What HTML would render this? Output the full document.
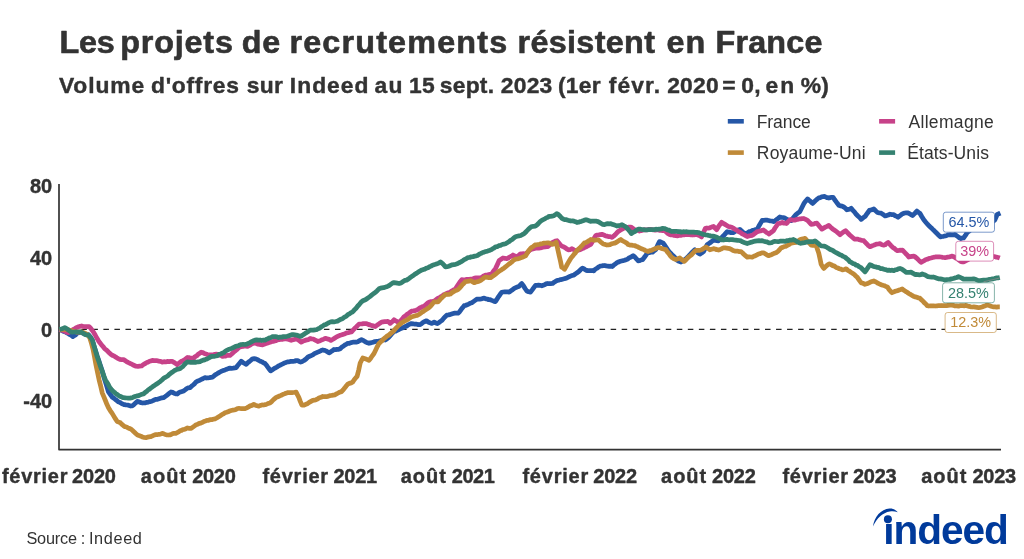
<!DOCTYPE html>
<html lang="fr"><head><meta charset="utf-8"><title>Les projets de recrutements résistent en France</title>
<style>html,body{margin:0;padding:0;background:#fff}svg{display:block;will-change:transform}text{font-family:'Liberation Sans', Arial, sans-serif;white-space:pre}</style></head><body>
<svg width="1024" height="559" viewBox="0 0 1024 559">
<text id="title" transform="translate(59.46,53.4) scale(1.03,1)" font-size="31.4" font-weight="bold" fill="#333333" letter-spacing="0.939" word-spacing="-3.072" stroke="#333333" stroke-width="0.6" stroke-linejoin="round"><tspan letter-spacing="-0.160">Les</tspan> <tspan dx="-1.25" letter-spacing="0.808">projets</tspan> <tspan dx="1.04" letter-spacing="0.875">de</tspan> <tspan dx="1.38" letter-spacing="1.148">recrutements</tspan> <tspan dx="2.29" letter-spacing="0.316">résistent</tspan> <tspan dx="4.26" letter-spacing="1.142">en</tspan> <tspan dx="2.11" letter-spacing="0.195">France</tspan></text>
<text id="sub" transform="translate(58.90,93.0) scale(1.03,1)" font-size="22.2" font-weight="bold" fill="#333333" letter-spacing="1.018" word-spacing="-3.278" stroke="#333333" stroke-width="0.4" stroke-linejoin="round"><tspan letter-spacing="0.889">Volume</tspan> <tspan dx="1.68" letter-spacing="0.704">d'offres</tspan> <tspan dx="2.99" letter-spacing="0.241">sur</tspan> <tspan dx="2.70" letter-spacing="0.960">Indeed</tspan> <tspan dx="0.91" letter-spacing="1.390">au</tspan> <tspan dx="0.98" letter-spacing="0.241">15</tspan> <tspan dx="0.77" letter-spacing="0.241">sept.</tspan> <tspan dx="2.36" letter-spacing="0.241">2023</tspan> <tspan dx="1.34" letter-spacing="0.241">(1er</tspan> <tspan dx="3.62" letter-spacing="1.090">févr.</tspan> <tspan dx="1.77" letter-spacing="0.241">2020</tspan> <tspan dx="-0.69">=</tspan> <tspan dx="0.67" letter-spacing="0.241">0,</tspan> <tspan dx="0.60" letter-spacing="1.795">en</tspan> <tspan dx="0.74" letter-spacing="0.241">%)</tspan></text>
<rect x="727.8" y="118.99999999999999" width="16" height="4.6" fill="#2557A7"/><text id="lg1" transform="translate(756.70,127.6)" font-size="17.5" font-weight="normal" fill="#333333" letter-spacing="-0.036" word-spacing="0.000"><tspan letter-spacing="-0.066">France</tspan></text>
<rect x="879.1" y="118.99999999999999" width="16" height="4.6" fill="#C74289"/><text id="lg2" transform="translate(908.40,127.6)" font-size="17.5" font-weight="normal" fill="#333333" letter-spacing="0.358" word-spacing="0.000"><tspan letter-spacing="0.338">Allemagne</tspan></text>
<rect x="727.8" y="150.3" width="16" height="4.6" fill="#C08A38"/><text id="lg3" transform="translate(756.82,158.9)" font-size="17.5" font-weight="normal" fill="#333333" letter-spacing="0.208" word-spacing="0.000"><tspan letter-spacing="0.180">Royaume-Uni</tspan></text>
<rect x="879.1" y="150.3" width="16" height="4.6" fill="#358271"/><text id="lg4" transform="translate(907.19,158.9)" font-size="17.5" font-weight="normal" fill="#333333" letter-spacing="0.115" word-spacing="0.000">États-Unis</text>
<path d="M59.0,184 V449.6 H1001" fill="none" stroke="#333" stroke-width="1.7" stroke-linejoin="round"/>
<text x="52.2" y="192.89999999999998" font-size="20" font-weight="bold" fill="#333333" text-anchor="end" stroke="#333333" stroke-width="0.4" stroke-linejoin="round">80</text>
<text x="52.2" y="264.7" font-size="20" font-weight="bold" fill="#333333" text-anchor="end" stroke="#333333" stroke-width="0.4" stroke-linejoin="round">40</text>
<text x="52.2" y="336.59999999999997" font-size="20" font-weight="bold" fill="#333333" text-anchor="end" stroke="#333333" stroke-width="0.4" stroke-linejoin="round">0</text>
<text x="52.2" y="408.4" font-size="20" font-weight="bold" fill="#333333" text-anchor="end" stroke="#333333" stroke-width="0.4" stroke-linejoin="round">-40</text>
<path d="M59.3,329.4 H1001" fill="none" stroke="#222" stroke-width="1.4" stroke-dasharray="5.5 5.527"/>
<path d="M59.4,329.4 L60.9,330.1 L62.5,330.8 L64.0,331.5 L65.5,332.0 L67.0,332.9 L68.5,333.7 L70.0,334.7 L71.4,335.4 L72.9,336.6 L74.3,335.6 L75.6,334.9 L77.0,333.3 L79.0,332.8 L81.0,332.3 L82.5,332.9 L84.0,333.7 L85.5,334.3 L87.0,334.7 L88.5,334.7 L90.4,337.0 L92.2,340.0 L93.9,345.6 L95.6,350.9 L97.2,356.0 L98.7,360.2 L100.1,364.6 L101.6,369.1 L103.0,373.8 L104.8,380.0 L106.7,386.0 L108.5,392.0 L110.4,394.7 L112.2,397.2 L113.8,398.1 L115.2,399.3 L116.8,400.5 L118.2,401.8 L119.8,402.4 L121.3,403.3 L122.9,404.1 L124.4,404.7 L126.0,404.9 L127.6,405.0 L129.1,405.5 L130.7,406.0 L132.2,405.9 L133.9,404.6 L135.6,402.9 L137.2,401.4 L139.1,401.9 L141.0,402.7 L142.5,403.0 L144.0,402.9 L145.5,402.8 L147.0,402.3 L148.5,402.1 L150.0,401.6 L151.5,401.2 L153.0,400.6 L154.5,399.8 L156.0,399.4 L157.5,399.3 L159.0,398.8 L160.5,398.3 L162.0,397.8 L163.5,397.6 L165.0,396.7 L166.5,395.6 L168.0,394.4 L169.5,393.2 L171.0,392.0 L172.6,392.4 L174.1,393.3 L175.7,393.9 L177.2,394.0 L178.9,392.7 L180.5,391.9 L182.1,391.4 L183.8,390.9 L185.4,389.7 L187.0,388.4 L188.5,387.8 L190.0,387.6 L191.6,386.2 L193.1,385.0 L194.7,383.6 L196.2,381.8 L198.0,380.9 L199.8,380.3 L201.5,379.3 L203.2,378.5 L205.0,377.6 L206.5,378.0 L208.0,377.8 L209.5,377.7 L211.0,377.4 L212.5,377.1 L214.0,375.9 L215.5,374.6 L217.0,373.8 L218.5,372.9 L220.0,372.0 L221.7,371.1 L223.3,370.5 L225.0,369.9 L226.7,369.2 L228.3,368.6 L230.0,368.1 L231.6,368.3 L233.1,368.2 L234.7,367.9 L236.2,367.6 L237.9,365.2 L239.6,363.2 L241.2,361.3 L242.9,362.5 L244.6,363.5 L246.2,364.3 L247.8,362.7 L249.4,361.5 L250.9,360.2 L252.5,358.8 L254.2,358.7 L255.8,358.8 L257.5,359.6 L259.0,360.5 L260.5,361.3 L262.0,361.9 L263.5,362.8 L265.0,363.5 L266.4,365.1 L267.8,367.1 L269.2,369.0 L270.6,370.9 L272.1,370.0 L273.5,369.1 L275.0,368.1 L276.6,367.2 L278.1,366.2 L279.7,365.4 L281.2,364.6 L282.8,363.9 L284.4,363.0 L285.9,362.5 L287.5,361.9 L289.2,361.8 L291.0,361.4 L292.8,361.4 L294.5,361.1 L296.2,360.6 L297.7,360.6 L299.2,361.5 L300.6,362.0 L302.3,361.4 L304.0,360.5 L306.0,359.0 L308.0,357.0 L309.6,356.3 L311.2,355.6 L312.8,354.9 L314.4,353.7 L316.1,352.9 L317.8,352.1 L319.4,351.5 L321.1,350.6 L322.8,350.0 L324.3,350.3 L325.9,350.9 L327.4,351.8 L329.0,352.9 L330.7,351.9 L332.3,350.8 L334.0,349.5 L335.6,349.7 L337.1,349.4 L338.7,349.3 L340.2,348.7 L341.8,347.1 L343.2,346.3 L344.8,345.0 L346.2,344.4 L347.8,343.3 L349.4,343.3 L351.1,342.6 L352.8,342.2 L354.4,342.2 L356.1,342.2 L357.8,341.7 L359.6,340.6 L361.5,339.6 L363.0,340.3 L364.5,341.2 L366.0,342.1 L367.5,342.8 L369.0,343.3 L370.5,342.9 L372.0,342.5 L373.5,342.2 L375.0,341.5 L376.5,341.4 L378.2,341.4 L380.0,340.9 L381.8,340.3 L383.5,339.7 L385.2,340.0 L386.8,339.0 L388.4,337.7 L390.0,335.9 L392.0,333.5 L394.0,331.4 L395.7,331.1 L397.3,330.2 L399.0,329.5 L400.7,328.6 L402.3,328.0 L404.0,327.3 L405.5,326.4 L407.0,325.9 L408.5,324.7 L410.0,324.1 L411.5,323.6 L413.2,323.8 L415.0,324.2 L416.8,324.2 L418.5,324.7 L420.2,324.6 L421.8,323.5 L423.4,322.2 L424.9,321.5 L426.5,320.8 L428.2,322.0 L430.0,322.8 L431.8,323.4 L433.0,322.8 L434.2,322.1 L435.8,323.0 L437.4,323.6 L439.0,322.5 L440.5,321.4 L442.1,320.3 L443.6,318.4 L445.2,316.7 L446.8,315.1 L448.4,314.9 L450.0,314.6 L451.6,314.0 L453.2,313.5 L454.8,313.1 L456.4,313.2 L458.0,313.2 L459.6,311.7 L461.1,309.6 L462.7,307.6 L464.2,305.6 L465.8,305.3 L467.2,304.7 L468.8,304.1 L470.2,303.2 L471.8,302.7 L473.4,301.6 L475.1,300.4 L476.8,299.2 L478.2,299.1 L479.8,299.2 L481.2,299.0 L482.8,298.4 L484.2,298.2 L485.8,298.8 L487.2,299.0 L488.8,299.7 L490.2,299.7 L491.8,300.4 L493.6,301.1 L495.5,301.6 L497.1,299.0 L498.6,296.6 L500.2,294.3 L501.8,292.3 L503.2,292.0 L504.8,291.8 L506.2,291.9 L507.8,291.9 L509.2,292.1 L510.9,290.8 L512.6,289.7 L514.2,288.4 L515.8,287.6 L517.2,287.0 L518.8,286.5 L520.2,285.1 L521.8,283.6 L523.4,285.7 L525.1,288.5 L526.8,291.0 L528.6,291.7 L530.5,292.1 L532.2,289.9 L533.8,287.7 L535.5,285.4 L537.1,285.4 L538.6,285.2 L540.2,285.3 L541.8,285.8 L543.2,285.3 L544.6,284.8 L546.1,283.9 L547.5,283.5 L549.2,283.6 L550.8,283.6 L552.5,283.5 L554.2,282.2 L555.8,281.2 L557.5,280.3 L559.2,280.1 L560.8,279.6 L562.5,279.2 L564.1,278.8 L565.7,278.4 L567.3,277.7 L568.9,276.9 L570.5,276.1 L572.1,275.5 L573.8,275.2 L575.4,273.9 L577.1,272.7 L578.8,271.5 L580.6,269.7 L582.5,268.2 L584.2,269.0 L585.8,270.1 L587.5,270.6 L589.1,270.6 L590.6,270.6 L592.2,270.5 L593.8,270.8 L595.3,269.2 L596.9,268.3 L598.4,267.1 L600.0,266.2 L601.6,266.0 L603.1,265.6 L604.7,265.5 L606.2,265.9 L607.8,266.1 L609.4,266.4 L610.9,266.1 L612.5,266.5 L614.0,264.9 L615.5,263.8 L617.0,262.7 L618.5,262.0 L620.0,261.3 L621.5,261.0 L623.0,260.7 L624.5,260.3 L626.0,259.7 L627.5,259.3 L628.9,258.0 L630.3,257.4 L631.7,256.6 L633.1,255.7 L634.8,257.0 L636.4,258.8 L638.1,260.8 L639.6,260.7 L641.0,260.0 L642.5,259.7 L644.2,257.5 L645.8,255.3 L647.5,252.9 L649.2,252.6 L650.8,252.2 L652.5,252.2 L654.1,250.7 L655.8,249.5 L657.6,245.4 L659.5,241.6 L661.4,242.3 L663.2,243.2 L664.9,245.5 L666.6,248.1 L668.2,250.6 L669.8,252.4 L671.4,254.0 L672.9,255.6 L674.5,257.1 L675.8,258.6 L677.0,260.2 L679.0,261.3 L681.0,262.0 L682.7,261.0 L684.3,260.0 L686.0,258.8 L687.8,257.0 L689.5,255.1 L691.2,253.3 L693.0,251.5 L694.8,249.8 L696.4,251.5 L698.1,253.0 L699.8,254.1 L701.6,253.0 L703.5,251.6 L705.4,248.0 L707.2,244.5 L708.8,243.7 L710.4,242.5 L711.9,241.4 L713.5,240.2 L715.2,240.5 L716.8,240.6 L718.5,240.8 L720.2,239.2 L721.8,237.5 L723.5,235.8 L725.4,233.7 L727.2,231.7 L728.8,232.1 L730.4,232.6 L731.9,232.7 L733.5,232.6 L735.1,231.4 L736.6,230.4 L738.2,229.9 L739.8,229.4 L741.4,230.8 L743.1,232.3 L744.8,233.7 L746.3,233.3 L747.9,232.5 L749.4,231.6 L751.0,231.2 L752.6,230.3 L754.1,230.1 L755.7,229.6 L757.2,229.3 L758.9,226.0 L760.6,223.1 L762.2,220.4 L763.8,220.3 L765.4,220.2 L766.9,220.2 L768.5,220.5 L770.2,220.8 L771.8,221.0 L773.5,221.6 L775.1,220.7 L776.6,219.5 L778.2,218.4 L779.8,217.0 L781.3,217.3 L782.9,217.5 L784.4,217.8 L786.0,218.7 L787.7,219.7 L789.3,220.3 L791.0,220.7 L792.7,218.5 L794.3,216.6 L796.0,214.6 L797.9,213.0 L799.8,211.8 L801.8,207.7 L803.8,203.7 L805.6,201.2 L807.5,198.9 L809.2,200.4 L810.8,201.7 L812.5,203.4 L814.1,201.9 L815.6,200.5 L817.2,199.1 L818.8,197.9 L820.2,197.6 L821.6,196.9 L823.0,196.7 L824.4,196.4 L825.9,197.1 L827.3,197.7 L828.8,198.0 L830.2,197.6 L831.6,197.3 L833.1,197.3 L834.5,199.5 L835.9,201.4 L837.3,203.3 L838.8,205.2 L840.4,205.9 L842.1,206.2 L843.8,207.0 L845.3,208.1 L846.9,209.8 L848.4,209.4 L849.8,209.2 L851.2,208.3 L852.9,210.3 L854.6,212.1 L856.2,214.3 L857.9,216.0 L859.6,217.5 L861.2,219.3 L863.1,217.8 L865.0,216.6 L866.5,214.4 L867.9,212.5 L869.4,210.4 L870.9,210.0 L872.3,209.6 L873.8,209.0 L875.6,210.8 L877.5,212.5 L879.4,213.0 L881.2,213.2 L883.1,214.4 L885.0,215.9 L886.7,215.6 L888.3,215.1 L890.0,214.2 L891.9,214.6 L893.8,214.7 L895.2,215.7 L896.6,216.2 L898.1,217.2 L900.0,215.7 L901.9,214.1 L903.3,213.5 L904.7,213.0 L906.1,212.9 L907.5,212.8 L909.2,213.5 L910.8,214.5 L912.5,215.6 L914.0,214.1 L915.4,212.7 L916.9,211.1 L918.5,212.4 L920.0,213.5 L921.9,216.8 L923.8,219.8 L925.6,222.0 L927.5,224.2 L929.0,225.8 L930.5,227.2 L932.0,228.6 L933.5,230.1 L935.2,231.7 L937.0,233.5 L938.7,235.2 L940.4,236.9 L942.0,236.5 L943.6,236.3 L945.3,235.9 L946.9,235.4 L948.5,234.8 L950.1,234.7 L951.6,234.9 L953.2,234.9 L954.8,234.4 L956.3,235.5 L957.9,236.6 L959.4,237.8 L961.0,238.5 L962.2,238.1 L963.5,238.0 L965.4,235.4 L967.2,232.5 L968.8,231.4 L970.4,230.0 L971.9,229.0 L973.5,228.1 L975.0,227.4 L976.7,226.9 L978.3,226.3 L980.0,225.9 L981.7,225.3 L983.3,224.6 L985.0,224.4 L986.8,223.8 L988.5,223.1 L990.2,222.4 L992.0,222.0 L993.4,221.1 L994.8,219.9 L996.0,217.3 L997.2,214.4 L998.8,213.8 L1000.4,213.1" fill="none" stroke="#2557A7" stroke-width="4.75" stroke-linejoin="round" stroke-linecap="butt"/>
<path d="M59.4,329.4 L60.9,329.9 L62.5,330.5 L64.0,330.7 L65.5,331.6 L67.0,332.4 L68.5,332.6 L70.3,331.4 L72.2,330.2 L74.0,329.2 L75.5,328.2 L77.0,327.4 L78.6,326.7 L80.1,326.3 L81.6,326.0 L83.1,326.5 L84.6,326.7 L86.1,326.6 L87.6,326.5 L89.1,326.5 L90.6,328.1 L92.0,330.1 L93.5,332.1 L95.2,335.0 L96.8,338.0 L98.5,340.8 L100.1,343.1 L101.6,344.9 L103.2,346.8 L104.8,348.9 L106.2,349.9 L107.8,351.3 L109.2,352.8 L110.8,354.3 L112.2,355.2 L113.8,355.9 L115.2,356.7 L116.8,357.8 L118.2,358.6 L119.8,359.3 L121.6,359.6 L123.5,359.6 L125.0,360.6 L126.5,361.6 L128.0,362.4 L129.5,363.1 L131.0,363.8 L132.7,364.8 L134.3,365.5 L136.0,366.2 L137.9,366.3 L139.7,366.1 L141.6,366.0 L143.1,364.7 L144.5,363.9 L146.0,362.9 L147.6,362.3 L149.1,361.5 L150.7,360.9 L152.2,360.4 L153.9,360.7 L155.6,360.6 L157.2,360.7 L158.9,361.1 L160.6,361.4 L162.2,362.1 L163.9,361.7 L165.6,361.9 L167.2,361.4 L168.9,361.7 L170.6,361.4 L172.2,361.4 L173.9,362.3 L175.6,363.4 L177.2,364.6 L178.6,363.5 L180.0,362.3 L181.5,361.2 L183.0,360.6 L184.5,359.8 L186.0,358.6 L187.5,357.5 L189.1,357.7 L190.6,358.4 L192.2,358.1 L193.8,358.3 L195.2,356.6 L196.8,355.7 L198.2,354.3 L199.8,353.2 L201.2,352.2 L202.8,352.6 L204.2,353.4 L205.8,353.9 L207.2,354.5 L208.8,354.9 L210.2,354.8 L211.8,354.8 L213.2,354.9 L214.8,354.3 L216.2,354.2 L217.8,354.3 L219.4,355.2 L220.9,355.5 L222.5,356.4 L224.0,355.9 L225.5,356.1 L227.0,355.4 L228.5,355.4 L230.0,355.4 L231.7,354.0 L233.3,352.5 L235.0,351.0 L236.7,349.7 L238.3,348.1 L240.0,346.9 L241.5,346.6 L243.0,346.5 L244.5,345.9 L246.0,346.1 L247.5,346.4 L249.0,345.6 L250.5,344.8 L252.0,343.8 L253.5,343.3 L255.0,343.0 L256.5,343.6 L258.0,344.2 L259.5,344.4 L261.0,344.7 L262.5,344.9 L264.0,344.3 L265.5,343.6 L267.0,343.2 L268.5,342.7 L270.0,342.3 L271.5,341.6 L273.0,341.5 L274.5,341.0 L276.0,340.6 L277.5,339.8 L279.2,339.7 L281.0,339.2 L282.8,339.3 L284.5,338.9 L286.2,338.9 L287.9,339.2 L289.6,339.7 L291.2,340.3 L292.9,339.7 L294.6,339.4 L296.2,338.7 L297.9,339.7 L299.6,340.8 L301.2,342.1 L303.1,341.1 L305.0,340.4 L306.8,339.9 L308.5,339.6 L310.2,338.5 L311.8,338.8 L313.2,339.0 L314.8,339.9 L316.2,340.6 L317.8,341.6 L319.2,341.1 L320.8,340.4 L322.2,339.7 L323.8,339.1 L325.2,338.4 L326.7,338.7 L328.1,339.1 L329.5,339.6 L330.9,340.4 L332.5,339.5 L334.0,338.7 L335.6,337.5 L337.1,336.7 L338.7,335.9 L340.2,335.3 L341.9,334.8 L343.5,334.2 L345.1,333.7 L346.7,332.9 L348.3,332.6 L349.9,332.2 L351.5,331.9 L353.0,330.2 L354.5,328.6 L356.0,327.2 L357.5,325.6 L359.0,324.1 L360.5,324.0 L362.0,323.9 L363.5,323.6 L365.0,323.6 L366.5,323.6 L368.2,324.4 L370.0,324.9 L371.8,325.6 L373.5,325.9 L375.2,326.5 L376.8,325.4 L378.4,324.3 L379.9,323.2 L381.5,322.1 L383.1,321.9 L384.6,321.7 L386.2,321.7 L387.8,321.3 L389.0,322.3 L390.2,323.4 L392.1,321.8 L394.0,319.8 L395.7,320.9 L397.3,321.7 L399.0,322.8 L400.7,320.6 L402.3,319.0 L404.0,316.8 L405.5,315.9 L407.0,314.4 L408.5,313.5 L410.0,312.2 L411.5,311.2 L413.1,311.0 L414.6,310.7 L416.2,310.2 L417.8,309.5 L419.3,308.2 L420.9,307.5 L422.4,306.7 L424.0,306.2 L426.0,304.5 L428.0,302.6 L429.6,302.0 L431.1,301.6 L432.7,301.6 L434.2,301.1 L435.8,299.9 L437.4,298.7 L438.9,297.9 L440.5,296.9 L442.1,296.0 L443.6,294.8 L445.2,294.2 L446.8,293.4 L448.5,292.9 L450.2,292.0 L452.0,290.9 L453.8,289.7 L455.5,288.7 L457.1,286.3 L458.6,284.0 L460.2,281.7 L461.8,279.7 L463.2,279.8 L464.8,279.9 L466.2,279.4 L467.8,279.3 L469.2,279.4 L471.0,279.1 L472.8,278.9 L474.5,278.1 L476.2,277.8 L478.0,277.8 L479.5,277.9 L481.0,277.7 L482.5,276.8 L484.0,275.8 L485.5,275.1 L487.1,275.0 L488.6,274.7 L490.2,274.4 L491.8,273.8 L493.6,271.0 L495.5,268.6 L497.4,264.4 L499.2,260.4 L501.1,259.2 L503.0,258.0 L504.9,258.3 L506.8,258.7 L508.3,258.0 L509.9,256.9 L511.4,256.3 L513.0,255.0 L514.9,256.0 L516.8,256.7 L518.6,255.5 L520.5,253.8 L522.0,253.8 L523.5,253.7 L525.0,254.2 L526.7,253.0 L528.3,251.6 L530.0,250.0 L531.8,249.2 L533.7,248.7 L535.5,248.2 L537.1,248.2 L538.6,248.1 L540.2,247.8 L541.8,247.6 L543.3,247.1 L544.9,247.0 L546.4,246.6 L548.0,246.6 L550.0,244.8 L552.0,242.7 L553.7,242.0 L555.3,241.1 L557.0,240.7 L558.7,242.8 L560.3,244.8 L562.0,246.3 L563.6,246.8 L565.1,247.6 L566.7,248.9 L568.2,249.8 L570.1,249.6 L572.0,248.7 L573.9,249.8 L575.8,250.7 L577.2,250.6 L578.8,250.0 L580.2,249.6 L581.8,248.8 L583.2,248.3 L584.8,247.5 L586.2,246.8 L587.8,246.0 L589.2,245.2 L590.8,244.4 L592.4,241.5 L594.1,238.3 L595.8,235.6 L597.3,235.1 L598.9,234.9 L600.4,234.6 L602.0,234.3 L603.6,234.9 L605.1,235.7 L606.7,236.1 L608.2,236.6 L610.1,236.6 L612.0,237.4 L613.6,236.2 L615.1,234.8 L616.7,233.0 L618.2,231.5 L619.9,230.4 L621.6,229.5 L623.2,228.5 L624.8,228.0 L626.2,227.5 L627.8,227.3 L629.2,227.0 L630.8,227.0 L632.6,228.3 L634.5,229.7 L636.2,230.0 L637.8,230.4 L639.5,231.1 L641.1,230.6 L642.6,230.2 L644.2,229.7 L645.8,229.8 L647.3,229.8 L648.9,229.4 L650.4,229.4 L652.0,229.6 L653.6,230.0 L655.1,230.1 L656.7,229.8 L658.2,230.0 L659.8,230.3 L661.4,230.4 L662.9,230.7 L664.5,230.6 L666.2,232.0 L667.8,233.4 L669.5,234.4 L671.1,234.9 L672.6,234.8 L674.2,235.5 L675.8,235.7 L677.4,235.8 L679.0,235.5 L680.6,235.4 L682.2,234.9 L684.0,234.9 L685.8,234.5 L687.5,234.7 L689.2,234.7 L691.0,234.8 L692.6,235.0 L694.1,234.8 L695.7,234.7 L697.2,234.7 L698.7,235.3 L700.1,236.0 L701.6,236.9 L703.5,232.4 L705.4,228.3 L706.9,228.0 L708.3,228.1 L709.8,227.8 L711.6,227.1 L713.5,226.5 L715.0,228.0 L716.6,229.7 L718.3,226.9 L719.9,224.7 L721.6,222.3 L723.3,223.4 L725.0,224.4 L726.8,225.5 L728.5,226.5 L730.0,226.9 L731.5,227.3 L733.0,227.9 L734.5,229.0 L736.0,229.8 L737.6,230.9 L739.1,231.9 L740.7,232.7 L742.2,233.9 L743.9,234.7 L745.6,235.6 L747.2,236.5 L748.9,235.9 L750.6,235.7 L752.2,235.4 L753.9,234.2 L755.6,232.9 L757.2,231.6 L758.8,231.3 L760.4,230.9 L761.9,230.4 L763.5,230.0 L764.9,231.1 L766.3,232.3 L767.7,233.0 L769.1,234.0 L770.6,232.7 L772.0,231.7 L773.5,230.6 L775.0,228.0 L776.4,226.0 L777.9,223.7 L779.4,223.5 L780.8,223.0 L782.2,222.5 L783.7,223.2 L785.1,223.2 L786.6,223.5 L788.5,221.3 L790.4,219.6 L791.8,219.9 L793.2,220.1 L794.6,220.2 L796.0,219.7 L797.5,219.4 L799.1,218.9 L800.6,218.9 L802.2,218.7 L803.8,218.5 L805.6,219.4 L807.5,220.3 L809.4,222.3 L811.2,224.3 L812.7,224.1 L814.1,223.9 L815.5,223.3 L816.9,223.2 L818.6,225.3 L820.2,227.2 L821.9,229.1 L823.6,228.1 L825.3,227.1 L827.0,226.3 L828.8,225.4 L830.4,227.0 L832.1,228.5 L833.8,229.8 L835.3,230.8 L836.9,231.9 L838.4,233.3 L840.0,234.7 L841.4,233.4 L842.8,232.5 L844.2,231.6 L845.6,230.7 L847.1,232.3 L848.5,233.7 L850.0,235.2 L851.5,236.5 L852.9,237.7 L854.4,239.0 L855.9,239.0 L857.3,239.1 L858.8,239.6 L860.4,239.9 L862.1,240.5 L863.8,240.7 L865.3,242.4 L866.9,244.0 L868.4,245.6 L870.0,246.7 L871.7,246.0 L873.3,245.4 L875.0,244.7 L876.7,244.1 L878.3,244.0 L880.0,243.6 L881.9,244.7 L883.8,245.1 L885.2,244.8 L886.6,243.4 L888.1,242.4 L889.6,244.0 L891.0,245.6 L892.5,247.2 L894.0,248.1 L895.4,249.3 L896.9,250.5 L898.3,250.5 L899.7,250.2 L901.1,250.4 L902.5,250.1 L904.1,251.8 L905.6,253.5 L907.2,255.0 L908.8,257.0 L910.4,256.6 L912.1,256.3 L913.8,256.1 L915.2,256.9 L916.6,258.1 L918.1,259.5 L919.5,261.0 L921.0,262.3 L922.7,261.4 L924.3,260.6 L926.0,259.5 L927.7,259.1 L929.3,258.3 L931.0,258.0 L932.7,257.5 L934.3,257.2 L936.0,256.8 L937.7,256.8 L939.3,256.8 L941.0,257.0 L942.7,257.3 L944.3,257.5 L946.0,257.5 L947.6,257.1 L949.1,257.0 L950.7,256.5 L952.2,256.1 L953.8,256.8 L955.4,257.8 L957.0,258.6 L959.0,260.1 L961.0,261.6 L962.5,261.8 L964.0,261.8 L965.5,260.9 L967.0,260.1 L968.5,259.3 L970.0,258.4 L971.5,258.1 L973.0,257.6 L974.5,257.6 L976.0,257.8 L977.5,257.7 L979.0,257.5 L980.5,257.2 L982.0,257.3 L983.6,256.8 L985.2,256.7 L986.8,256.3 L988.4,256.3 L990.0,256.2 L991.6,256.4 L993.2,256.5 L994.8,256.6 L996.4,257.2 L998.1,257.5 L999.8,258.1" fill="none" stroke="#C74289" stroke-width="4.75" stroke-linejoin="round" stroke-linecap="butt"/>
<path d="M59.4,329.4 L61.0,329.4 L62.7,329.4 L64.3,329.5 L66.0,329.4 L67.6,329.4 L69.2,330.0 L70.8,330.5 L72.4,331.0 L74.0,331.5 L75.6,331.7 L77.2,332.2 L78.8,332.0 L80.4,332.2 L82.0,331.9 L83.7,332.6 L85.3,333.4 L87.0,334.3 L88.4,336.1 L89.8,337.8 L91.4,343.2 L93.0,349.0 L94.5,356.9 L96.0,365.1 L97.5,372.2 L99.1,379.8 L100.7,386.2 L102.2,392.8 L103.8,396.6 L105.4,400.5 L106.9,404.3 L108.5,407.8 L110.2,410.6 L112.0,413.1 L113.8,416.1 L115.5,418.9 L117.2,421.5 L118.8,422.1 L120.4,422.8 L121.9,424.4 L123.5,425.7 L125.0,426.7 L126.5,427.0 L128.0,427.8 L129.5,428.5 L131.0,429.2 L132.6,430.5 L134.1,431.9 L135.7,433.5 L137.2,434.8 L139.0,435.6 L140.8,436.2 L142.5,437.0 L144.2,437.5 L146.0,437.7 L147.5,437.1 L149.0,436.8 L150.5,436.7 L152.0,436.1 L153.5,435.4 L155.2,434.7 L157.0,434.7 L158.8,434.3 L160.5,434.1 L162.2,433.4 L163.8,433.8 L165.2,434.5 L166.8,434.8 L168.2,435.0 L169.8,434.9 L171.2,434.4 L172.8,433.6 L174.2,433.3 L175.8,433.3 L177.2,432.6 L178.6,431.9 L180.0,430.8 L181.5,430.4 L183.0,429.5 L184.5,429.3 L186.0,428.7 L187.5,428.0 L189.4,428.4 L191.2,428.3 L192.9,427.1 L194.6,425.9 L196.2,424.7 L197.8,424.2 L199.3,423.4 L200.8,423.1 L202.4,422.4 L203.9,421.5 L205.4,421.0 L206.9,420.4 L208.5,420.3 L210.0,419.7 L211.7,419.6 L213.3,419.2 L215.0,418.9 L216.7,418.0 L218.3,417.0 L220.0,415.9 L221.7,414.8 L223.3,413.9 L225.0,412.8 L226.6,412.3 L228.1,411.7 L229.7,411.0 L231.2,410.5 L232.8,410.2 L234.4,409.9 L235.9,409.5 L237.5,408.5 L239.0,408.4 L240.5,408.5 L242.0,408.5 L243.5,408.6 L245.0,408.6 L246.8,407.8 L248.5,406.9 L250.2,405.9 L252.0,405.4 L253.8,404.4 L255.4,405.2 L257.1,405.8 L258.8,406.2 L260.4,405.4 L262.0,404.9 L263.6,405.0 L265.2,404.7 L266.8,404.1 L268.4,403.4 L270.0,403.0 L271.6,401.6 L273.1,400.0 L274.7,398.6 L276.2,397.4 L277.9,396.7 L279.5,396.0 L281.1,395.4 L282.7,394.5 L284.3,393.9 L285.9,393.2 L287.5,392.7 L289.2,392.5 L291.0,392.5 L292.8,392.5 L294.5,392.4 L296.2,392.2 L297.5,394.9 L298.8,397.3 L300.3,401.3 L301.9,405.2 L304.0,405.2 L305.8,404.3 L307.5,403.7 L309.2,402.4 L311.0,401.4 L312.8,400.4 L314.4,400.2 L316.1,399.7 L317.8,398.8 L319.4,397.7 L321.1,397.2 L322.8,396.5 L324.5,396.7 L326.2,396.6 L328.0,396.3 L329.8,395.7 L331.5,395.5 L333.2,395.1 L334.8,394.8 L336.5,393.9 L338.2,393.0 L339.8,392.1 L341.5,391.7 L343.1,389.9 L344.6,388.1 L346.2,386.0 L347.8,384.2 L349.4,383.4 L351.1,382.9 L352.8,381.9 L354.2,379.8 L355.7,377.9 L357.1,376.4 L358.7,370.1 L360.2,363.0 L361.5,360.5 L362.8,358.0 L364.3,358.5 L365.9,359.0 L367.4,359.6 L369.0,360.4 L370.7,358.2 L372.3,355.8 L374.0,353.5 L375.7,350.0 L377.3,346.6 L379.0,343.4 L380.6,341.9 L382.1,340.7 L383.7,338.9 L385.2,337.7 L387.0,336.1 L388.8,335.1 L390.5,333.6 L392.2,332.2 L394.0,330.5 L395.5,328.6 L397.0,327.1 L398.5,325.5 L400.0,324.3 L401.5,322.9 L403.2,322.0 L405.0,320.9 L406.8,320.0 L408.5,318.9 L410.2,317.7 L412.0,316.7 L413.8,316.2 L415.5,315.7 L417.2,315.4 L419.0,314.5 L420.5,313.3 L422.0,312.1 L423.5,311.3 L425.0,310.2 L426.5,309.3 L428.0,308.3 L429.6,307.1 L431.1,305.6 L432.7,303.5 L434.2,301.9 L436.1,301.9 L438.0,301.9 L439.5,300.2 L441.0,298.4 L442.5,297.1 L444.0,295.7 L445.5,294.4 L447.2,294.5 L448.8,294.3 L450.5,294.0 L452.0,292.6 L453.5,291.7 L455.0,290.7 L456.5,290.2 L458.0,289.6 L459.5,288.1 L461.0,286.4 L462.5,284.6 L464.0,283.2 L465.5,281.6 L467.2,281.4 L468.8,281.1 L470.5,280.7 L472.4,281.6 L474.2,282.7 L475.9,282.0 L477.6,281.6 L479.2,281.2 L480.8,280.4 L482.4,279.2 L483.9,277.9 L485.5,277.0 L487.2,277.3 L488.8,277.7 L490.5,277.7 L492.2,276.5 L494.0,275.2 L495.8,274.0 L497.5,272.5 L499.2,271.1 L500.8,270.2 L502.4,269.1 L503.9,268.2 L505.5,266.9 L507.2,265.5 L509.0,264.0 L510.8,262.7 L512.5,261.3 L514.2,259.8 L515.9,259.0 L517.5,258.9 L519.1,258.5 L520.7,257.9 L522.3,257.3 L523.9,256.6 L525.5,255.9 L527.2,253.2 L528.8,250.5 L530.5,248.4 L532.0,247.2 L533.5,246.3 L535.0,244.9 L536.5,244.8 L538.0,244.5 L539.5,244.3 L541.0,243.8 L542.5,243.6 L544.1,243.1 L545.6,243.0 L547.2,242.9 L548.8,242.8 L550.6,243.7 L552.5,244.3 L554.4,243.5 L556.2,242.3 L557.7,249.0 L559.2,255.7 L560.5,261.2 L561.7,267.2 L563.1,268.0 L564.5,269.3 L566.2,266.4 L567.8,263.4 L569.5,260.5 L571.0,258.1 L572.5,256.3 L574.0,254.3 L575.5,252.8 L577.0,250.5 L578.5,249.1 L580.0,247.8 L581.5,246.2 L583.0,244.5 L584.5,242.8 L586.1,242.5 L587.6,241.6 L589.2,240.6 L590.8,239.5 L592.2,239.7 L593.8,240.1 L595.2,240.2 L596.8,240.0 L598.2,239.8 L599.9,241.2 L601.6,242.7 L603.2,244.0 L605.1,244.4 L607.0,245.0 L608.5,244.8 L610.0,244.6 L611.5,243.8 L613.0,243.5 L614.5,243.2 L616.1,242.5 L617.6,241.5 L619.2,240.4 L620.8,239.5 L622.2,240.7 L623.8,241.5 L625.2,242.2 L626.8,243.1 L628.2,244.6 L629.8,245.1 L631.4,245.2 L632.9,245.4 L634.5,245.5 L636.1,246.2 L637.6,246.7 L639.2,247.7 L640.8,248.5 L642.2,249.0 L643.8,249.6 L645.2,250.5 L646.8,251.0 L648.2,251.5 L649.8,250.6 L651.4,250.3 L652.9,249.6 L654.5,248.9 L656.2,248.3 L657.8,247.7 L659.5,247.6 L661.1,248.2 L662.6,248.8 L664.2,249.2 L665.8,249.6 L667.3,251.8 L668.9,253.6 L670.4,255.9 L672.0,257.6 L673.9,258.8 L675.8,259.4 L677.8,258.7 L679.8,257.9 L681.2,259.2 L682.6,260.2 L684.1,261.4 L685.6,260.1 L687.0,258.6 L688.5,257.2 L690.0,256.0 L691.5,254.8 L693.0,253.2 L694.5,251.5 L696.0,250.4 L697.7,250.3 L699.3,250.3 L701.0,250.0 L702.7,249.1 L704.3,248.0 L706.0,247.0 L707.9,248.2 L709.8,249.8 L711.6,249.2 L713.5,248.7 L715.2,249.0 L716.8,249.7 L718.5,250.0 L720.2,249.4 L721.8,248.7 L723.5,247.9 L725.1,247.9 L726.6,248.1 L728.2,248.4 L729.8,248.7 L731.4,249.4 L733.1,250.5 L734.8,251.1 L736.3,251.1 L737.9,251.2 L739.4,251.6 L741.0,251.7 L742.6,253.0 L744.1,254.5 L745.7,255.9 L747.2,257.1 L748.9,256.8 L750.6,257.0 L752.2,257.2 L753.8,256.3 L755.4,255.7 L756.9,254.9 L758.5,254.0 L760.2,253.6 L761.8,252.9 L763.5,252.8 L765.2,253.8 L766.8,254.8 L768.5,255.7 L770.0,255.1 L771.5,254.7 L773.0,253.9 L774.5,253.3 L776.0,252.8 L777.7,251.6 L779.3,250.0 L781.0,248.0 L782.7,247.3 L784.3,246.5 L786.0,246.3 L787.7,245.3 L789.3,244.4 L791.0,243.1 L792.7,242.8 L794.3,242.7 L796.0,242.5 L798.0,241.1 L800.0,239.5 L801.7,239.2 L803.3,238.9 L805.0,238.3 L806.6,240.1 L808.1,241.6 L809.7,243.5 L811.2,245.2 L812.9,245.4 L814.6,245.5 L816.2,245.6 L817.5,249.4 L818.8,253.2 L820.0,258.8 L821.2,264.4 L822.5,266.6 L823.8,268.4 L825.2,267.1 L826.6,265.8 L828.0,264.5 L829.4,263.8 L831.1,264.6 L832.8,265.6 L834.5,266.1 L836.2,267.5 L837.8,268.0 L839.4,268.7 L840.9,269.1 L842.5,269.9 L844.4,269.5 L846.2,268.8 L847.8,270.3 L849.4,271.1 L850.9,272.3 L852.5,273.2 L854.2,274.4 L855.8,276.0 L857.5,277.6 L859.4,280.4 L861.2,282.9 L863.1,283.3 L865.0,284.3 L866.7,283.8 L868.3,283.2 L870.0,282.3 L871.9,281.6 L873.8,281.0 L875.2,281.6 L876.8,282.5 L878.2,283.4 L879.8,284.1 L881.2,284.7 L882.8,285.3 L884.4,285.7 L885.9,286.5 L887.5,287.0 L889.0,289.4 L890.4,291.1 L891.9,292.7 L893.4,291.9 L894.8,291.4 L896.2,291.0 L897.8,290.6 L899.2,290.0 L900.8,289.5 L902.2,289.0 L903.9,290.3 L905.5,291.4 L907.1,292.3 L908.8,293.5 L910.3,294.3 L911.9,295.4 L913.4,296.2 L915.0,296.9 L916.6,297.2 L918.2,297.8 L919.8,298.1 L921.2,299.6 L922.8,301.0 L924.2,302.6 L925.8,304.0 L927.2,305.6 L928.9,306.0 L930.5,305.9 L932.1,305.9 L933.7,305.9 L935.3,306.0 L936.9,305.8 L938.5,305.7 L940.1,305.6 L941.7,305.5 L943.3,305.7 L944.9,305.7 L946.5,305.7 L948.1,305.4 L949.8,305.1 L951.5,305.2 L953.2,305.3 L955.0,305.9 L956.8,305.9 L958.5,306.1 L960.0,305.7 L961.5,305.6 L963.0,305.6 L964.5,305.8 L966.0,305.4 L967.6,306.0 L969.1,306.4 L970.7,306.8 L972.2,307.0 L973.8,306.9 L975.4,307.1 L976.9,307.3 L978.5,307.7 L980.2,307.4 L982.0,307.0 L983.8,306.3 L985.5,305.7 L987.2,304.9 L988.8,305.4 L990.4,306.0 L991.9,306.5 L993.5,306.8 L995.1,306.9 L996.6,307.1 L998.2,306.9 L999.8,306.9" fill="none" stroke="#C08A38" stroke-width="4.75" stroke-linejoin="round" stroke-linecap="butt"/>
<path d="M59.4,329.4 L61.2,329.0 L63.0,328.5 L64.8,327.6 L66.2,328.3 L67.8,329.6 L69.2,330.7 L70.8,331.7 L72.2,332.1 L74.0,332.0 L75.8,331.9 L77.5,332.0 L79.2,331.8 L81.0,331.9 L82.5,332.9 L84.0,333.8 L85.5,334.6 L87.0,335.0 L88.5,335.2 L90.4,337.4 L92.2,339.8 L93.9,345.5 L95.6,351.3 L97.2,356.8 L99.1,362.3 L101.0,368.0 L102.5,371.9 L103.9,376.2 L105.4,379.9 L106.9,382.3 L108.3,384.6 L109.8,387.5 L111.3,389.3 L112.9,391.1 L114.4,392.3 L116.0,393.9 L117.5,394.7 L119.0,395.8 L120.5,396.5 L122.0,397.2 L123.5,397.7 L125.1,397.8 L126.6,398.0 L128.2,398.1 L129.8,398.1 L131.2,397.9 L132.8,397.4 L134.2,396.8 L135.8,396.2 L137.2,395.9 L138.8,395.6 L140.4,394.9 L141.9,394.3 L143.5,393.9 L145.0,392.6 L146.5,391.6 L148.0,390.0 L149.5,389.1 L151.0,387.9 L152.5,386.8 L154.0,385.8 L155.5,384.7 L157.0,383.7 L158.5,382.7 L160.4,381.3 L162.2,379.7 L163.8,378.1 L165.3,377.3 L166.9,376.5 L168.4,375.3 L170.0,373.8 L171.5,372.6 L173.0,371.7 L174.5,370.5 L176.0,369.8 L178.0,369.1 L180.0,368.7 L181.5,367.5 L183.0,366.3 L184.5,364.5 L186.0,363.0 L187.5,361.8 L189.1,362.2 L190.6,362.3 L192.2,362.3 L193.8,362.2 L195.3,362.4 L196.9,362.0 L198.4,361.8 L200.0,361.6 L201.8,360.7 L203.5,360.1 L205.2,359.6 L207.0,359.0 L208.8,358.0 L210.5,356.9 L212.2,356.4 L214.0,356.3 L215.8,356.0 L217.5,355.6 L219.1,354.4 L220.6,354.0 L222.2,353.3 L223.8,352.6 L225.3,351.3 L226.9,350.3 L228.4,349.5 L230.0,349.0 L231.6,348.4 L233.2,347.6 L234.8,346.8 L236.4,346.1 L238.0,346.0 L239.6,345.0 L241.2,344.5 L243.1,344.4 L245.0,344.5 L246.7,344.2 L248.3,343.4 L250.0,342.6 L251.7,341.6 L253.3,340.8 L255.0,340.2 L256.7,339.9 L258.3,340.1 L260.0,340.0 L261.7,340.5 L263.3,340.2 L265.0,340.2 L266.5,339.3 L268.0,338.7 L269.5,337.9 L271.0,337.5 L272.5,336.7 L274.0,336.6 L275.5,336.7 L277.0,336.9 L278.5,337.5 L280.0,337.2 L281.8,337.1 L283.5,336.6 L285.2,336.6 L287.0,336.3 L288.8,335.9 L290.2,335.3 L291.8,334.7 L293.2,334.7 L294.8,334.9 L296.2,335.1 L297.7,335.4 L299.2,335.9 L300.6,336.4 L302.3,335.4 L304.0,334.2 L305.6,333.1 L307.1,332.2 L308.7,331.2 L310.2,330.1 L311.8,330.1 L313.4,330.1 L314.9,329.8 L316.5,329.7 L318.1,328.8 L319.6,328.3 L321.2,326.9 L322.8,326.0 L324.3,324.8 L325.9,324.5 L327.4,323.5 L329.0,322.6 L330.7,321.9 L332.3,321.7 L334.0,321.8 L335.8,321.5 L337.5,321.1 L339.2,320.2 L341.0,319.2 L342.8,318.5 L344.4,317.2 L346.1,316.4 L347.8,314.7 L349.4,313.9 L351.1,312.6 L352.8,311.8 L354.4,309.9 L356.1,308.2 L357.8,306.0 L359.4,304.3 L361.1,302.2 L362.8,300.8 L364.2,300.2 L365.8,299.5 L367.2,298.5 L368.8,297.4 L370.2,296.4 L372.0,294.8 L373.8,293.4 L375.5,292.3 L377.2,290.7 L379.0,288.8 L380.5,288.2 L382.0,287.9 L383.5,287.7 L385.0,287.2 L386.5,286.8 L388.0,286.1 L389.5,285.3 L391.0,284.2 L392.5,283.1 L394.0,282.6 L395.7,282.9 L397.3,283.2 L399.0,283.5 L400.5,283.1 L402.0,282.3 L403.5,281.3 L405.0,280.4 L406.5,280.1 L408.2,279.1 L409.9,277.8 L411.6,276.6 L413.3,275.5 L415.0,274.1 L416.8,273.1 L418.5,271.8 L420.2,270.9 L422.0,269.9 L423.5,269.4 L425.0,269.1 L426.5,268.1 L428.0,267.7 L429.5,266.7 L431.0,266.1 L432.5,265.2 L434.0,264.7 L435.5,264.3 L437.2,263.7 L438.8,263.1 L440.5,262.0 L442.2,263.3 L443.8,264.9 L445.5,266.8 L447.2,266.6 L448.8,266.2 L450.5,265.5 L452.2,264.8 L453.8,264.6 L455.5,264.4 L457.1,263.8 L458.6,263.0 L460.2,262.3 L461.8,261.4 L463.3,260.3 L464.9,259.3 L466.4,258.6 L468.0,257.6 L469.7,257.5 L471.3,256.8 L473.0,256.6 L474.7,256.1 L476.3,255.9 L478.0,255.2 L479.6,254.0 L481.1,253.4 L482.7,252.5 L484.2,252.1 L485.9,251.5 L487.6,251.1 L489.2,250.6 L490.8,249.9 L492.4,248.9 L493.9,248.2 L495.5,246.9 L497.2,246.6 L498.8,245.7 L500.5,245.4 L502.2,244.5 L503.8,244.1 L505.5,243.7 L507.2,242.7 L508.8,241.8 L510.5,240.4 L512.2,239.5 L513.8,238.0 L515.5,236.8 L517.2,236.3 L519.0,235.9 L520.8,235.5 L522.5,234.5 L524.2,233.7 L525.8,232.0 L527.2,230.5 L528.8,228.8 L530.2,227.7 L531.8,226.5 L533.4,226.3 L535.1,226.1 L536.8,225.2 L538.4,223.5 L540.1,221.6 L541.8,220.3 L543.2,219.6 L544.8,218.9 L546.2,217.9 L547.8,217.3 L549.2,216.3 L550.6,216.4 L552.0,216.2 L553.7,215.7 L555.3,214.7 L557.0,213.6 L558.7,214.8 L560.3,216.5 L562.0,218.4 L563.5,219.2 L565.0,219.6 L566.5,219.7 L568.0,220.2 L569.5,220.6 L571.0,221.0 L572.5,220.9 L574.0,221.2 L575.5,221.7 L577.0,222.5 L578.5,222.2 L580.0,221.6 L581.5,221.3 L583.0,220.8 L584.5,220.1 L586.0,219.7 L587.5,220.1 L589.0,220.7 L590.5,221.3 L592.0,221.2 L593.5,221.2 L595.0,221.1 L596.5,221.2 L598.0,221.6 L599.5,222.4 L601.2,223.5 L602.8,224.4 L604.5,224.6 L606.1,224.0 L607.6,223.6 L609.2,223.9 L610.8,223.7 L612.3,224.4 L613.9,224.8 L615.4,225.4 L617.0,226.0 L618.7,225.6 L620.3,225.3 L622.0,224.7 L623.9,225.8 L625.8,226.8 L627.2,228.4 L628.6,230.0 L630.0,231.6 L631.4,233.6 L633.1,232.4 L634.8,231.6 L636.5,230.2 L638.2,229.2 L640.0,229.2 L641.8,229.5 L643.5,229.7 L645.2,229.9 L647.0,229.8 L648.8,229.7 L650.5,229.7 L652.2,229.7 L654.0,229.6 L655.8,229.2 L657.5,229.3 L659.2,229.1 L661.0,228.9 L662.8,228.4 L664.5,228.5 L666.0,229.1 L667.5,229.8 L669.0,230.1 L670.5,231.0 L672.0,231.5 L673.5,231.4 L675.1,231.3 L676.6,231.3 L678.2,231.7 L679.8,231.6 L681.5,232.1 L683.2,231.7 L685.0,231.8 L686.8,231.7 L688.5,232.1 L690.2,232.2 L691.8,232.2 L693.5,232.1 L695.2,232.4 L696.8,232.3 L698.5,232.6 L700.2,233.2 L701.8,233.9 L703.5,234.4 L705.2,234.8 L706.8,235.0 L708.5,235.4 L710.0,235.7 L711.5,236.2 L713.0,236.2 L714.5,236.4 L716.0,237.0 L717.5,237.7 L719.0,238.4 L720.5,239.0 L722.0,239.8 L723.5,240.0 L725.2,239.7 L727.0,239.4 L728.8,239.8 L730.5,239.7 L732.2,239.6 L734.0,239.9 L735.8,240.1 L737.5,240.3 L739.2,240.5 L741.0,240.9 L742.6,241.9 L744.1,242.5 L745.7,243.0 L747.2,243.5 L748.8,242.9 L750.4,242.4 L751.9,242.1 L753.5,241.5 L755.2,241.1 L757.0,240.8 L758.8,240.7 L760.5,240.9 L762.2,240.7 L763.8,241.2 L765.4,241.6 L766.9,241.9 L768.5,242.8 L770.1,242.8 L771.6,242.7 L773.2,241.8 L774.8,241.4 L776.5,241.5 L778.2,241.7 L780.0,241.2 L781.8,241.2 L783.5,241.2 L785.2,241.4 L786.8,240.7 L788.5,240.6 L790.2,240.0 L791.8,240.1 L793.5,239.5 L795.0,240.3 L796.5,241.2 L798.0,242.2 L799.5,243.0 L801.0,243.3 L802.8,242.9 L804.5,242.6 L806.2,242.2 L808.0,241.9 L809.8,241.7 L811.5,241.7 L813.2,241.6 L815.0,240.8 L816.6,242.1 L818.1,243.3 L819.7,244.8 L821.2,245.9 L822.8,246.0 L824.4,246.0 L825.9,246.8 L827.5,247.7 L829.2,248.8 L831.0,249.8 L832.8,250.5 L834.5,251.7 L836.2,252.7 L838.0,253.7 L839.8,254.7 L841.5,255.3 L843.2,256.4 L845.0,257.1 L846.7,258.6 L848.3,259.9 L850.0,261.9 L851.5,262.5 L853.0,263.6 L854.5,263.8 L856.0,265.1 L857.5,265.4 L859.0,266.6 L860.5,267.3 L862.0,268.8 L863.5,270.3 L865.0,271.8 L866.7,269.5 L868.3,267.1 L870.0,264.7 L871.5,265.2 L873.0,266.2 L874.5,266.6 L876.0,266.9 L877.5,267.4 L879.2,267.7 L880.8,268.6 L882.5,268.7 L884.2,269.4 L885.8,269.6 L887.5,270.4 L889.1,270.2 L890.6,270.5 L892.2,270.2 L893.8,270.7 L895.3,269.8 L896.9,269.7 L898.4,268.9 L900.0,268.5 L901.5,269.0 L903.0,269.9 L904.5,270.9 L906.0,272.3 L907.7,272.3 L909.3,272.3 L911.0,272.2 L913.0,273.3 L915.0,274.6 L916.5,274.4 L917.9,274.7 L919.4,274.8 L920.8,274.6 L922.2,273.9 L923.8,274.6 L925.2,275.1 L926.8,276.1 L928.2,276.7 L929.8,277.0 L931.5,277.1 L933.2,277.0 L935.0,277.6 L936.8,278.2 L938.5,278.8 L940.1,278.9 L941.7,279.2 L943.3,279.5 L944.9,280.0 L946.5,279.7 L948.1,279.5 L949.8,279.4 L951.5,278.9 L953.2,278.5 L955.0,277.9 L956.8,277.5 L958.5,276.7 L960.2,277.4 L961.8,278.1 L963.5,279.1 L965.2,279.1 L966.8,279.0 L968.5,279.1 L970.2,279.2 L971.8,279.1 L973.5,278.8 L975.2,279.3 L976.8,279.9 L978.5,280.6 L980.2,280.6 L981.8,280.4 L983.5,280.2 L985.0,280.1 L986.5,280.1 L988.0,279.7 L989.5,279.3 L991.0,279.1 L992.8,278.8 L994.5,278.5 L996.2,277.9 L998.0,277.9 L999.8,277.5" fill="none" stroke="#358271" stroke-width="4.75" stroke-linejoin="round" stroke-linecap="butt"/>
<path d="M983.5,281.8 L999.7,278" stroke="#888" stroke-width="0.8" fill="none"/>
<rect x="943.3" y="212.2" width="51.20" height="20.00" rx="2.5" fill="#fff" stroke="#2557A7" stroke-opacity="0.6" stroke-width="1"/><text x="968.9" y="226.89999999999998" font-size="14.4" font-weight="normal" fill="#2557A7" text-anchor="middle">64.5%</text>
<rect x="955.8" y="241.3" width="37.80" height="19.80" rx="2.5" fill="#fff" stroke="#C74289" stroke-opacity="0.6" stroke-width="1"/><text x="974.7" y="255.8" font-size="14.4" font-weight="normal" fill="#C74289" text-anchor="middle">39%</text>
<rect x="942.6" y="282.8" width="51.80" height="20.00" rx="2.5" fill="#fff" stroke="#358271" stroke-opacity="0.6" stroke-width="1"/><text x="968.5" y="297.5" font-size="14.4" font-weight="normal" fill="#358271" text-anchor="middle">28.5%</text>
<rect x="945.1" y="312.5" width="51.20" height="20.00" rx="2.5" fill="#fff" stroke="#C08A38" stroke-opacity="0.6" stroke-width="1"/><text x="970.7" y="327.2" font-size="14.4" font-weight="normal" fill="#C08A38" text-anchor="middle">12.3%</text>
<text id="x0" transform="translate(1.98,483.4)" font-size="20" font-weight="bold" fill="#333333" letter-spacing="0.327" word-spacing="0.000" stroke="#333333" stroke-width="0.4" stroke-linejoin="round"><tspan letter-spacing="0.719">février</tspan> <tspan dx="-2.01" letter-spacing="-0.190">2020</tspan></text>
<text id="x1" transform="translate(140.79,483.4)" font-size="20" font-weight="bold" fill="#333333" letter-spacing="0.348" word-spacing="0.000" stroke="#333333" stroke-width="0.4" stroke-linejoin="round"><tspan letter-spacing="1.048">août</tspan> <tspan dx="-0.91" letter-spacing="-0.304">2020</tspan></text>
<text id="x2" transform="translate(262.42,483.4)" font-size="20" font-weight="bold" fill="#333333" letter-spacing="0.278" word-spacing="0.000" stroke="#333333" stroke-width="0.4" stroke-linejoin="round"><tspan letter-spacing="0.762">février</tspan> <tspan dx="-1.28" letter-spacing="-0.281">2021</tspan></text>
<text id="x3" transform="translate(400.67,483.4)" font-size="20" font-weight="bold" fill="#333333" letter-spacing="0.300" word-spacing="0.000" stroke="#333333" stroke-width="0.4" stroke-linejoin="round"><tspan letter-spacing="0.982">août</tspan> <tspan dx="-1.01" letter-spacing="-0.400">2021</tspan></text>
<text id="x4" transform="translate(522.41,483.4)" font-size="20" font-weight="bold" fill="#333333" letter-spacing="0.287" word-spacing="0.000" stroke="#333333" stroke-width="0.4" stroke-linejoin="round"><tspan letter-spacing="0.772">février</tspan> <tspan dx="-1.47" letter-spacing="-0.234">2022</tspan></text>
<text id="x5" transform="translate(661.04,483.4)" font-size="20" font-weight="bold" fill="#333333" letter-spacing="0.287" word-spacing="0.000" stroke="#333333" stroke-width="0.4" stroke-linejoin="round"><tspan letter-spacing="0.987">août</tspan> <tspan dx="-0.95" letter-spacing="-0.248">2022</tspan></text>
<text id="x6" transform="translate(782.41,483.4)" font-size="20" font-weight="bold" fill="#333333" letter-spacing="0.298" word-spacing="0.000" stroke="#333333" stroke-width="0.4" stroke-linejoin="round"><tspan letter-spacing="0.753">février</tspan> <tspan dx="-1.75" letter-spacing="-0.242">2023</tspan></text>
<text id="x7" transform="translate(921.18,483.4)" font-size="20" font-weight="bold" fill="#333333" letter-spacing="0.324" word-spacing="0.000" stroke="#333333" stroke-width="0.4" stroke-linejoin="round"><tspan letter-spacing="1.024">août</tspan> <tspan dx="-0.80" letter-spacing="-0.353">2023</tspan></text>
<text id="src" transform="translate(26.42,543.9)" font-size="16.3" font-weight="normal" fill="#333333" letter-spacing="0.233" word-spacing="-1.180"><tspan letter-spacing="-0.205">Source</tspan> <tspan dx="0.53">:</tspan> <tspan dx="-0.26" letter-spacing="0.630">Indeed</tspan></text>
<g fill="#003A9B">
<text x="883.3" y="543.9" font-size="40.6" font-weight="bold" fill="#003A9B" text-anchor="start" textLength="125.6" lengthAdjust="spacing" id="logo">indeed</text>
<rect x="882" y="506" width="11.5" height="18" fill="#fff"/>
<circle cx="887.9" cy="519.3" r="4.0"/>
<path d="M873.0,526.4 C874.2,516.6 881,509.0 889.5,508.4 C892.8,508.2 895.8,509.5 897.8,512.2 C895,511.2 892.5,511.0 889.8,511.4 C882.8,512.5 876.8,518.0 873.0,526.4 Z"/>
</g>
</svg></body></html>
